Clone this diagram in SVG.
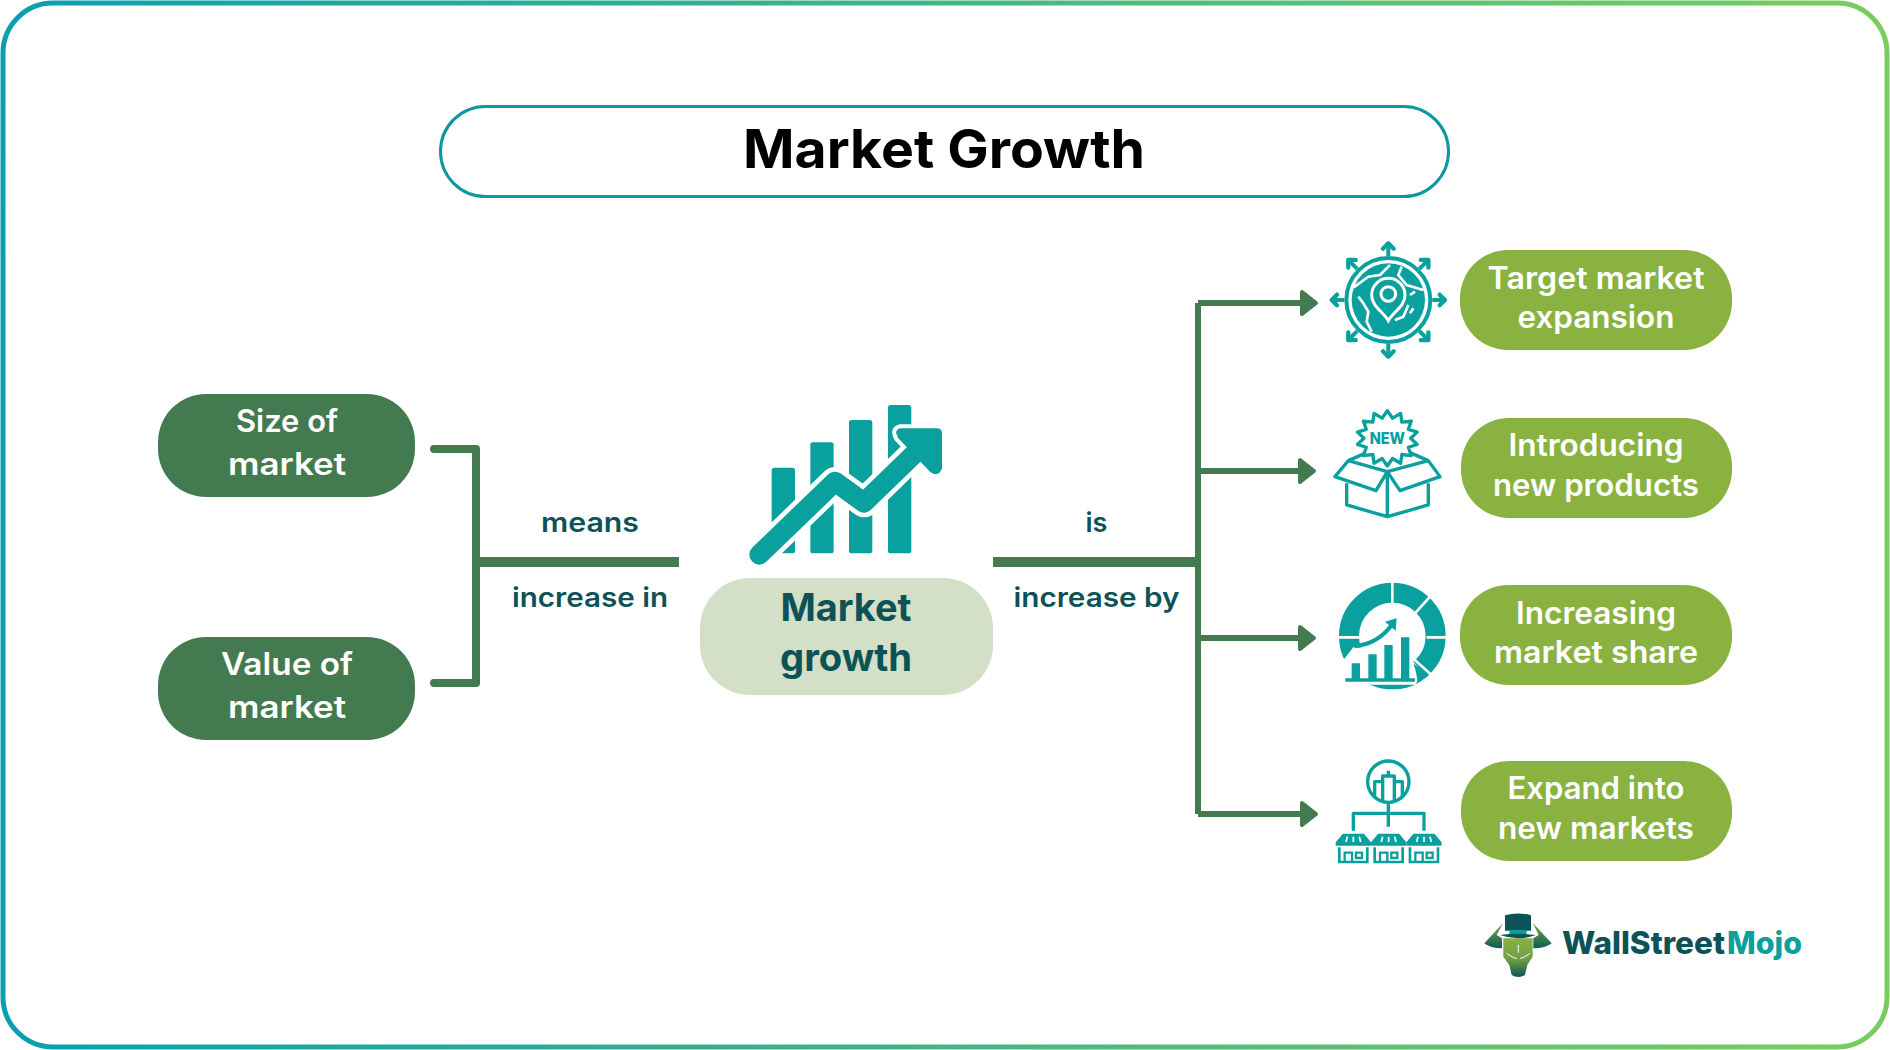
<svg xmlns="http://www.w3.org/2000/svg" width="1890" height="1050" viewBox="0 0 1890 1050">
<style>
text{font-family:"Inter","Noto Sans","Liberation Sans",sans-serif;text-anchor:middle}
.w{fill:#fff;font-weight:600;font-size:31px}
.d{fill:#0d5257;font-weight:600;font-size:27px}
.c{fill:#0d5257;font-weight:700;font-size:38px}
.line{fill:none;stroke:#447a4f;stroke-linecap:round;stroke-linejoin:round}
.ic{fill:none;stroke:#0aa09e;stroke-width:10;stroke-linejoin:round}
.tf{fill:#0aa09e}
</style>
<defs>
<linearGradient id="bg" gradientUnits="userSpaceOnUse" x1="0" y1="0" x2="1890" y2="0"><stop offset="0" stop-color="#0a9fb0"/><stop offset="1" stop-color="#78ce5c"/></linearGradient>
<linearGradient id="head" x1="0" y1="0" x2="0" y2="1"><stop offset="0" stop-color="#8ab241"/><stop offset=".55" stop-color="#6f9e45"/><stop offset="1" stop-color="#0d5257"/></linearGradient>
<linearGradient id="horn" x1="0" y1="0" x2="0" y2="1"><stop offset="0" stop-color="#7fa945"/><stop offset="1" stop-color="#0d5c58"/></linearGradient>
<marker id="ah" markerUnits="userSpaceOnUse" markerWidth="22" markerHeight="30" refX="3" refY="15" orient="auto"><path d="M3 4 L17 15 L3 26Z" fill="#447a4f" stroke="#447a4f" stroke-width="4" stroke-linejoin="round"/></marker>
<g id="spoke"><path d="M0 -132V-172" stroke="#0aa09e" stroke-width="12" fill="none"/><path d="M-16 -154L0 -170L16 -154" stroke="#0aa09e" stroke-width="13" fill="none" stroke-linejoin="round" stroke-linecap="round"/></g>
<g id="shop"><path d="M-30 -46H30L50 -22V-16H-50V-22Z" fill="#0aa09e" stroke="#0aa09e" stroke-width="6" stroke-linejoin="round"/><path d="M-18 -40L-22 -24M0 -40V-24M18 -40L22 -24" stroke="#fff" stroke-width="5"/><path d="M-42 -8V36H42V-8" fill="none" stroke="#0aa09e" stroke-width="8"/><path d="M-26 36V8H-4V36M8 8H26V24H8Z" fill="none" stroke="#0aa09e" stroke-width="7"/></g>
</defs>
<rect x="3" y="3" width="1884" height="1044" rx="50" fill="#fff" stroke="url(#bg)" stroke-width="5"/>

<g id="title"><rect x="440.500" y="106.500" width="1008" height="90" rx="45" fill="#fff" stroke="#0f96a0" stroke-width="3"/><text x="944" y="168" font-size="54" font-weight="700" fill="#000" textLength="402" lengthAdjust="spacingAndGlyphs">Market Growth</text></g>

<g id="connectors">
<path class="line" stroke-width="8" d="M434 449H476V683H434"/>
<path d="M478 562H679" stroke="#447a4f" stroke-width="10" fill="none"/>
<path d="M993 562H1197" stroke="#447a4f" stroke-width="10" fill="none"/>
<path d="M1198 303V814" stroke="#447a4f" stroke-width="6" fill="none"/>
<path d="M1198 303H1302" stroke="#447a4f" stroke-width="6" fill="none" marker-end="url(#ah)"/>
<path d="M1198 471H1300" stroke="#447a4f" stroke-width="6" fill="none" marker-end="url(#ah)"/>
<path d="M1198 638H1300" stroke="#447a4f" stroke-width="6" fill="none" marker-end="url(#ah)"/>
<path d="M1198 814H1302" stroke="#447a4f" stroke-width="6" fill="none" marker-end="url(#ah)"/>
</g>

<g id="label-means"><text class="d" x="590" y="532" textLength="98" lengthAdjust="spacingAndGlyphs">means</text></g>
<g id="label-increase-in"><text class="d" x="590" y="607" textLength="156" lengthAdjust="spacingAndGlyphs">increase in</text></g>
<g id="label-is"><text class="d" x="1096.500" y="532" textLength="22" lengthAdjust="spacingAndGlyphs">is</text></g>
<g id="label-increase-by"><text class="d" x="1096.500" y="607" textLength="166" lengthAdjust="spacingAndGlyphs">increase by</text></g>

<g id="node-size"><rect x="158" y="394" width="257" height="103" rx="48" fill="#447a4f"/><text class="w" x="287" y="432" textLength="102" lengthAdjust="spacingAndGlyphs">Size of</text><text class="w" x="287" y="475" textLength="118" lengthAdjust="spacingAndGlyphs">market</text></g>
<g id="node-value"><rect x="158" y="637" width="257" height="103" rx="48" fill="#447a4f"/><text class="w" x="287" y="675" textLength="132" lengthAdjust="spacingAndGlyphs">Value of</text><text class="w" x="287" y="718" textLength="118" lengthAdjust="spacingAndGlyphs">market</text></g>

<g id="node-growth">
<g transform="translate(720 380) scale(.3333)">
<rect x="155" y="263" width="70" height="257" rx="8" class="tf"/><rect x="271" y="187" width="70" height="333" rx="8" class="tf"/><rect x="387" y="120" width="70" height="400" rx="8" class="tf"/><rect x="504" y="75" width="70" height="445" rx="8" class="tf"/>
<path d="M118 524L345 305L432 368L600 205" fill="none" stroke="#fff" stroke-width="88" stroke-linejoin="round" stroke-linecap="round"/>
<path d="M540 145H650Q666 145 666 160V265Q655 295 630 275L535 175Q520 150 540 145Z" fill="#fff" stroke="#fff" stroke-width="24"/>
<path d="M118 524L345 305L432 368L600 205" fill="none" stroke="#0aa09e" stroke-width="60" stroke-linejoin="round" stroke-linecap="round"/>
<path d="M540 145H650Q666 145 666 160V265Q655 295 630 275L535 175Q520 150 540 145Z" class="tf"/>
</g>
<rect x="700" y="578" width="293" height="117" rx="50" fill="#d3dfc6"/>
<text class="c" x="846" y="621" textLength="131" lengthAdjust="spacingAndGlyphs">Market</text><text class="c" x="846" y="671" textLength="132" lengthAdjust="spacingAndGlyphs">growth</text></g>

<g id="node-target">
<g transform="translate(1300 220) scale(.3333)">
<g transform="translate(265 240)"><use href="#spoke"/><use href="#spoke" transform="rotate(45)"/><use href="#spoke" transform="rotate(90)"/><use href="#spoke" transform="rotate(135)"/><use href="#spoke" transform="rotate(180)"/><use href="#spoke" transform="rotate(225)"/><use href="#spoke" transform="rotate(270)"/><use href="#spoke" transform="rotate(315)"/>
<circle r="126" fill="#fff" stroke="#0aa09e" stroke-width="12"/><circle r="110" class="tf"/>
<path d="M-104 -38L-60 -70L-25 -75L5 -105M40 -100L30 -75L55 -45L105 -30M-90 -10L-75 10L-60 35L-65 65L-50 95M65 -15L80 -25M60 15L45 50L20 60M75 25L65 40" fill="none" stroke="#fff" stroke-width="8"/>
<path d="M0 62C-15 35 -50 20 -50 -15A50 50 0 0 1 50 -15C50 20 15 35 0 62Z" class="tf" stroke="#fff" stroke-width="9"/><circle cy="-18" r="22" class="tf" stroke="#fff" stroke-width="9"/></g>
</g>
<rect x="1460" y="250" width="272" height="100" rx="48" fill="#8ab241"/><text class="w" x="1596" y="289" textLength="217" lengthAdjust="spacingAndGlyphs">Target market</text><text class="w" x="1596" y="328" textLength="157" lengthAdjust="spacingAndGlyphs">expansion</text></g>

<g id="node-new">
<g transform="translate(1300 220) scale(.3333)">
<path class="ic" d="M140 790V855L262 890L385 855V790M262 755V890M262 755L145 722L105 770L228 812ZM262 755L385 722L420 770L300 812ZM145 722L200 698M385 722L330 698"/>
<polygon class="ic" points="262,572 277.600,594.600 301.900,580.200 305.600,606.500 333.900,603.200 325.100,628.100 351.700,636.500 332,655 351.700,673.500 325.100,681.900 333.900,706.800 305.600,703.500 301.900,729.800 277.600,715.400 262,738 246.400,715.400 222.100,729.800 218.400,703.500 190.100,706.800 198.900,681.900 172.300,673.500 192,655 172.300,636.500 198.900,628.100 190.100,603.200 218.400,606.500 222.100,580.200 246.400,594.600" style="fill:#fff"/>
<text x="262" y="672" font-size="46" font-weight="800" style="fill:#0aa09e" textLength="106" lengthAdjust="spacingAndGlyphs">NEW</text>
</g>
<rect x="1461" y="418" width="271" height="100" rx="48" fill="#8ab241"/><text class="w" x="1596" y="456" textLength="175" lengthAdjust="spacingAndGlyphs">Introducing</text><text class="w" x="1596" y="496" textLength="206" lengthAdjust="spacingAndGlyphs">new products</text></g>

<g id="node-share">
<g transform="translate(1300 560) scale(.3333)">
<circle cx="277" cy="228" r="130" fill="none" stroke="#0aa09e" stroke-width="60"/>
<path d="M277 60V130M390 110L345 160M380 232H440M110 232H180M340 296L395 345" stroke="#fff" stroke-width="8" fill="none"/>
<path d="M105 300H130L160 262L330 270L340 305L370 340L345 374H215L120 345Z" fill="#fff"/>
<path d="M345 376Q280 398 215 376Z" class="tf"/>
<path d="M340 310L385 348L352 368Q352 345 340 310Z" class="tf"/>
<path d="M155 310H180V355H155ZM205 283H230V355H205ZM253 255H278V355H253ZM303 232H328V355H303ZM136 355H345V365H136Z" class="tf"/>
<path d="M168 258Q235 250 275 195" fill="none" stroke="#0aa09e" stroke-width="12" stroke-linecap="round"/><path d="M290 175L255 185L287 212Z" class="tf"/>
</g>
<rect x="1460" y="585" width="272" height="100" rx="48" fill="#8ab241"/><text class="w" x="1596" y="624" textLength="160" lengthAdjust="spacingAndGlyphs">Increasing</text><text class="w" x="1596" y="663" textLength="204" lengthAdjust="spacingAndGlyphs">market share</text></g>

<g id="node-markets">
<g transform="translate(1300 560) scale(.3333)">
<circle cx="265" cy="665" r="62" class="ic"/>
<path class="ic" d="M248 720V648H283V720M248 665H224V708M283 665H307V708M265 632V648M265 725V800M160 812V760H372V812"/>
<use href="#shop" transform="translate(160 870)"/><use href="#shop" transform="translate(266 870)"/><use href="#shop" transform="translate(372 870)"/>
</g>
<rect x="1461" y="761" width="271" height="100" rx="48" fill="#8ab241"/><text class="w" x="1596" y="799" textLength="177" lengthAdjust="spacingAndGlyphs">Expand into</text><text class="w" x="1596" y="839" textLength="196" lengthAdjust="spacingAndGlyphs">new markets</text></g>

<g id="logo">
<g transform="translate(1300 560) scale(.3333)">
<path d="M610 1088L553 1150Q570 1165 606 1165V1135L590 1125ZM698 1088L755 1150Q738 1165 700 1165V1135L716 1125Z" fill="url(#horn)"/>
<path d="M610 1135H698V1190L682 1215L675 1245Q655 1258 635 1245L628 1215L610 1190Z" fill="url(#head)"/>
<path d="M655 1155V1178M620 1180Q640 1195 650 1195M690 1180Q670 1195 660 1195" stroke="#fff" stroke-width="3" fill="none"/>
<path d="M615 1066Q655 1055 693 1066V1112H615Z" fill="#0d5257"/>
<rect x="628" y="1110" width="52" height="15" fill="#0aa09e"/>
<path d="M600 1125Q655 1118 708 1125Q655 1145 600 1125Z" fill="#0d5257"/>
</g>
<text x="1562" y="954" font-size="31" font-weight="800" style="text-anchor:start" fill="#0d5257" textLength="163" lengthAdjust="spacingAndGlyphs">WallStreet</text>
<text x="1727" y="954" font-size="31" font-weight="800" style="text-anchor:start" fill="#0aa09e" textLength="75" lengthAdjust="spacingAndGlyphs">Mojo</text>
</g>
</svg>
